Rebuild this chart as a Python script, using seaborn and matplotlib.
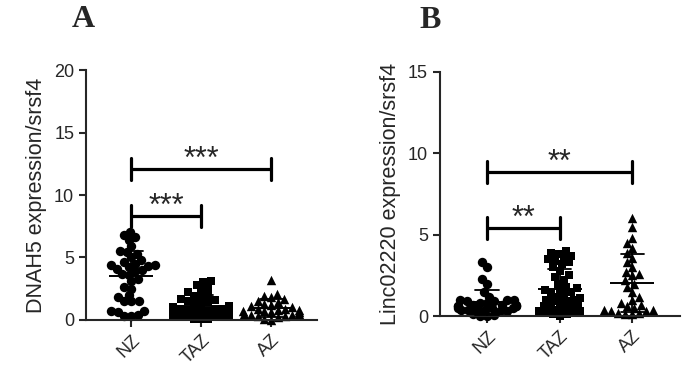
import warnings
warnings.filterwarnings("ignore")
import numpy as np
import pandas as pd
import matplotlib
matplotlib.use("Agg")
import matplotlib.pyplot as plt
import seaborn as sns

categories = ["NZ", "TAZ", "AZ"]
markers_by_group = {"NZ": "o", "TAZ": "s", "AZ": "^"}

# Panel A: DNAH5
a_nz = [7.0, 6.8, 6.6, 6.4, 5.9, 5.5, 5.4, 5.3, 5.0, 4.8, 4.6, 4.5, 4.4, 4.4, 4.3,
        4.1, 3.9, 3.6, 3.3, 4.0, 4.2, 3.7, 2.5, 3.1, 2.0, 2.6, 1.5, 1.5, 1.5, 1.8,
        0.7, 0.7, 0.6, 0.4, 0.3, 0.3]
a_taz = [3.1, 3.0, 2.8, 2.6, 2.4, 2.2, 2.0, 1.9, 1.8, 1.7, 1.6, 1.5, 1.4, 1.3, 1.2,
         1.1, 1.0, 1.0, 0.9, 0.9, 0.8, 0.8, 0.8, 0.7, 0.7, 0.6, 0.6, 0.6, 0.5, 0.5,
         0.5, 0.4, 0.4, 0.3, 0.3, 0.2, 0.2, 0.1, 0.1, 0.05]
a_az = [3.2, 2.1, 1.9, 1.8, 1.7, 1.5, 1.4, 1.3, 1.2, 1.1, 1.0, 0.9, 0.9, 0.8, 0.8,
        0.7, 0.7, 0.6, 0.6, 0.5, 0.5, 0.4, 0.4, 0.3, 0.3, 0.2, 0.1, 0.0]

# Panel B: Linc02220
b_nz = [3.3, 3.0, 2.3, 2.0, 1.5, 1.2, 1.0, 1.0, 0.9, 0.8, 0.7, 0.7, 0.6, 0.6, 0.6,
        0.5, 0.5, 0.4, 0.4, 0.4, 1.0, 0.9, 0.3, 0.3, 0.6, 0.7, 0.8, 0.5, 0.4, 0.1,
        0.05, 0.0, 0.0]
b_taz = [4.0, 3.9, 3.8, 3.7, 3.6, 3.5, 3.4, 3.3, 3.2, 3.0, 2.8, 2.5, 2.4, 2.2, 2.0,
         1.8, 1.7, 1.6, 1.6, 1.5, 1.4, 1.3, 1.2, 1.1, 1.0, 1.0, 0.9, 0.9, 0.8, 0.7,
         0.6, 0.6, 0.5, 0.5, 0.4, 0.3, 0.3, 0.2, 0.2, 0.1, 0.1, 0.0]
b_az = [6.0, 5.5, 4.8, 4.5, 4.2, 3.9, 3.6, 3.3, 3.0, 2.7, 2.6, 2.5, 2.2, 2.0, 1.8,
        1.5, 1.2, 1.0, 0.8, 0.7, 0.6, 0.5, 0.4, 0.4, 0.3, 0.3, 0.2, 0.2, 0.1, 0.1]

a_ylabel = "DNAH5 expression/srsf4"
b_ylabel = "Linc02220 expression/srsf4"
a_yticks = [0, 5, 10, 15, 20]
b_yticks = [0, 5, 10, 15]
a_brackets = [(0, 1, 8.3, "***"), (0, 2, 12.1, "***")]
b_brackets = [(0, 1, 5.4, "**"), (0, 2, 8.85, "**")]

sns.set_style("ticks")
plt.rcParams["font.family"] = ["Liberation Sans", "DejaVu Sans"]

swarm_colls = []


def make_df(nz, taz, az):
    return pd.DataFrame({
        "group": ["NZ"] * len(nz) + ["TAZ"] * len(taz) + ["AZ"] * len(az),
        "value": nz + taz + az,
    })


def draw(ax, df, yticks, ylabel, brackets, letter, lx, ly):
    for g in categories:
        sub = df[df["group"] == g]
        n_before = len(ax.collections)
        sns.swarmplot(data=sub, x="group", y="value", order=categories, ax=ax,
                      marker=markers_by_group[g], color="black", size=4.9,
                      linewidth=0, zorder=2)
        for coll in ax.collections[n_before:]:
            swarm_colls.append((ax, coll, g))
    sns.pointplot(data=df, x="group", y="value", order=categories, ax=ax,
                  errorbar="sd", capsize=0.32, color="black", markers="_",
                  markersize=32, markeredgewidth=1.4, linestyle="none",
                  err_kws={"linewidth": 1.3}, zorder=3)
    ax.set_xlim(-0.65, 2.66)
    ax.set_ylim(0, yticks[-1])
    ax.set_yticks(yticks)
    ax.set_ylabel(ylabel, fontsize=15.5, labelpad=5)
    ax.set_xlabel("")
    ax.tick_params(axis="y", labelsize=13, width=1.5, length=5)
    ax.tick_params(axis="x", labelsize=13, width=1.5, length=5)
    for lab in ax.get_xticklabels():
        lab.set_rotation(45)
        lab.set_ha("right")
        lab.set_rotation_mode("anchor")
    for s in ["left", "bottom"]:
        ax.spines[s].set_linewidth(1.5)
    sns.despine(ax=ax)
    ymax = yticks[-1]
    for x0, x1, y, txt in brackets:
        h = ymax * 0.045
        ax.plot([x0, x1], [y, y], color="black", lw=2.3, solid_capstyle="butt")
        ax.plot([x0, x0], [y - h, y + h], color="black", lw=2.3)
        ax.plot([x1, x1], [y - h, y + h], color="black", lw=2.3)
        ax.text((x0 + x1) / 2, y + ymax * 0.005, txt, ha="center", va="baseline",
                fontsize=22)
    ax.text(lx, ly, letter, transform=ax.transAxes, ha="left",
            va="baseline", fontsize=23, fontweight="bold",
            family=["Liberation Serif", "DejaVu Serif"])


fig = plt.figure(figsize=(6.85, 3.75), dpi=100)
axA = fig.add_axes([0.1255, 0.147, 0.338, 0.666])
axB = fig.add_axes([0.642, 0.157, 0.351, 0.651])

draw(axA, make_df(a_nz, a_taz, a_az), a_yticks, a_ylabel, a_brackets, "A", -0.06, 1.172)
draw(axB, make_df(b_nz, b_taz, b_az), b_yticks, b_ylabel, b_brackets, "B", -0.083, 1.18)

# let seaborn compute the swarm layout with smaller markers, then enlarge them
fig.canvas.draw()
for ax, coll, g in swarm_colls:
    xy = np.asarray(coll.get_offsets()).copy()
    coll.remove()
    ax.scatter(xy[:, 0], xy[:, 1], marker=markers_by_group[g], color="black",
               s=(46 if g != "TAZ" else 40), linewidths=0, zorder=2, clip_on=False)

fig.savefig("out.png", dpi=100, facecolor="white")
